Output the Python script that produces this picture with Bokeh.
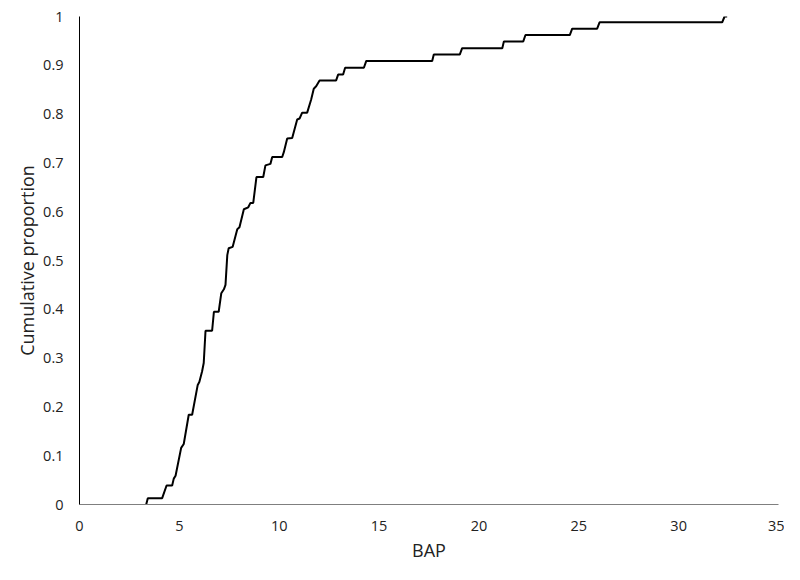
from bokeh.plotting import figure
from bokeh.models import Range1d, FixedTicker
from bokeh.embed import file_html
from bokeh.resources import INLINE

# vertices of the cumulative-proportion curve
bap = [3.34, 3.42, 4.14, 4.36, 4.64, 4.72, 4.81, 5.09, 5.22, 5.47, 5.64, 5.92, 6.0,
       6.14, 6.22, 6.31, 6.64, 6.73, 6.97, 7.1, 7.23, 7.31, 7.4, 7.47, 7.67, 7.9,
       8.01, 8.23, 8.45, 8.56, 8.7, 8.86, 9.2, 9.31, 9.56, 9.65, 10.15, 10.23, 10.4,
       10.65, 10.9, 11.02, 11.15, 11.4, 11.6, 11.73, 11.85, 12.02, 12.85, 12.95, 13.2,
       13.3, 14.24, 14.36, 17.66, 17.74, 19.04, 19.16, 21.17, 21.25, 22.22, 22.33,
       24.55, 24.67, 25.92, 26.04, 32.18, 32.3, 32.43]
cum_prop = [0.0, 0.013, 0.013, 0.039, 0.039, 0.053, 0.059, 0.116, 0.124, 0.184, 0.184,
            0.245, 0.251, 0.273, 0.29, 0.356, 0.356, 0.395, 0.395, 0.433, 0.441, 0.45,
            0.511, 0.525, 0.528, 0.564, 0.568, 0.605, 0.609, 0.618, 0.618, 0.671, 0.671,
            0.695, 0.698, 0.712, 0.712, 0.722, 0.75, 0.751, 0.789, 0.791, 0.803, 0.803,
            0.83, 0.852, 0.857, 0.869, 0.869, 0.881, 0.881, 0.895, 0.895, 0.909, 0.909,
            0.922, 0.922, 0.935, 0.935, 0.949, 0.949, 0.962, 0.962, 0.975, 0.975, 0.988,
            0.988, 1.0, 1.0]

x_ticks = [0, 5, 10, 15, 20, 25, 30, 35]
y_ticks = [0, 0.1, 0.2, 0.3, 0.4, 0.5, 0.6, 0.7, 0.8, 0.9, 1.0]
y_tick_labels = ["0", "0.1", "0.2", "0.3", "0.4", "0.5", "0.6", "0.7", "0.8", "0.9", "1"]

p = figure(width=784, height=564, output_backend="svg", toolbar_location=None,
           x_range=Range1d(0, 35), y_range=Range1d(0, 1),
           min_border_left=79, min_border_right=6, min_border_top=16, min_border_bottom=59)
p.outline_line_color = None
p.xgrid.visible = False
p.ygrid.visible = False

p.line(bap, cum_prop, line_color="black", line_width=2)

p.xaxis.ticker = FixedTicker(ticks=x_ticks)
p.yaxis.ticker = FixedTicker(ticks=y_ticks)
p.yaxis.major_label_overrides = {t: l for t, l in zip(y_ticks, y_tick_labels)}
for ax in (p.xaxis[0], p.yaxis[0]):
    ax.major_tick_line_color = None
    ax.minor_tick_line_color = None
    ax.major_label_text_font = "Open Sans"
    ax.major_label_text_font_size = "14.5px"
    ax.major_label_text_color = "#222222"
    ax.axis_label_text_font = "Open Sans"
    ax.axis_label_text_font_size = "18px"
    ax.axis_label_text_font_style = "normal"
    ax.axis_label_text_color = "#222222"
p.xaxis.major_label_standoff = 10
p.yaxis.major_label_standoff = 10
p.xaxis.axis_line_color = "#7f7f7f"
p.yaxis.axis_line_color = "black"
p.xaxis.axis_label = "BAP"
p.yaxis.axis_label = "Cumulative proportion"
p.xaxis.axis_label_standoff = 4
p.yaxis.axis_label_standoff = 1

open("out.html", "w").write(file_html(p, INLINE))
